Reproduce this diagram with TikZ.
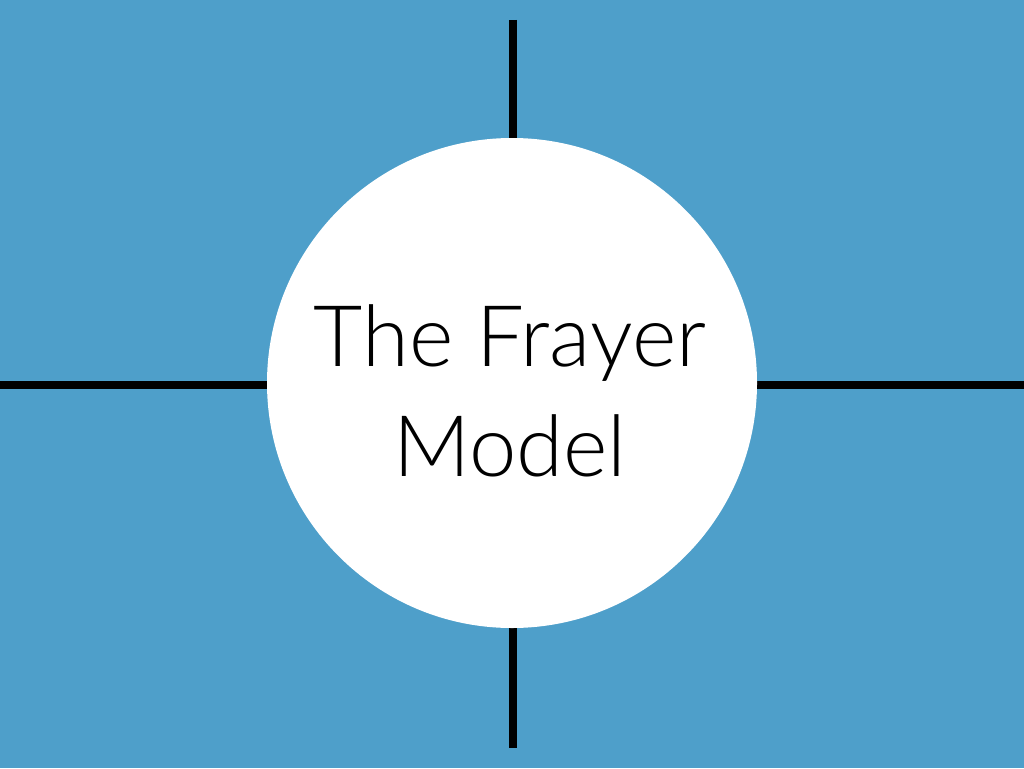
\documentclass[tikz,border=0pt]{standalone}
\usepackage{fontspec}
\setmainfont{Lato}[UprightFont=* Light]
\definecolor{frayerblue}{HTML}{4E9FCA}

\begin{document}
\begin{tikzpicture}[x=1pt, y=-1pt]
    \tikzset{
        axis line/.style={line width=8pt, black},
        title circle/.style={circle, fill=white, minimum size=490pt, inner sep=0pt},
        title text/.style={align=center, font=\fontsize{85}{110}\selectfont}
    }
    \fill [frayerblue] (0,0) rectangle (1024,768);
    \useasboundingbox (0,0) rectangle (1024,768);

    \coordinate (top) at (513,20);
    \coordinate (bottom) at (513,748);
    \coordinate (left) at (0,385);
    \coordinate (right) at (1024,385);

    \draw [axis line] (top) -- (bottom);
    \draw [axis line] (left) -- (right);

    \node [title circle] (model) at (512,383) {};
    \node [title text] (title) at (510,391) {The Frayer\\Model};
\end{tikzpicture}
\end{document}
